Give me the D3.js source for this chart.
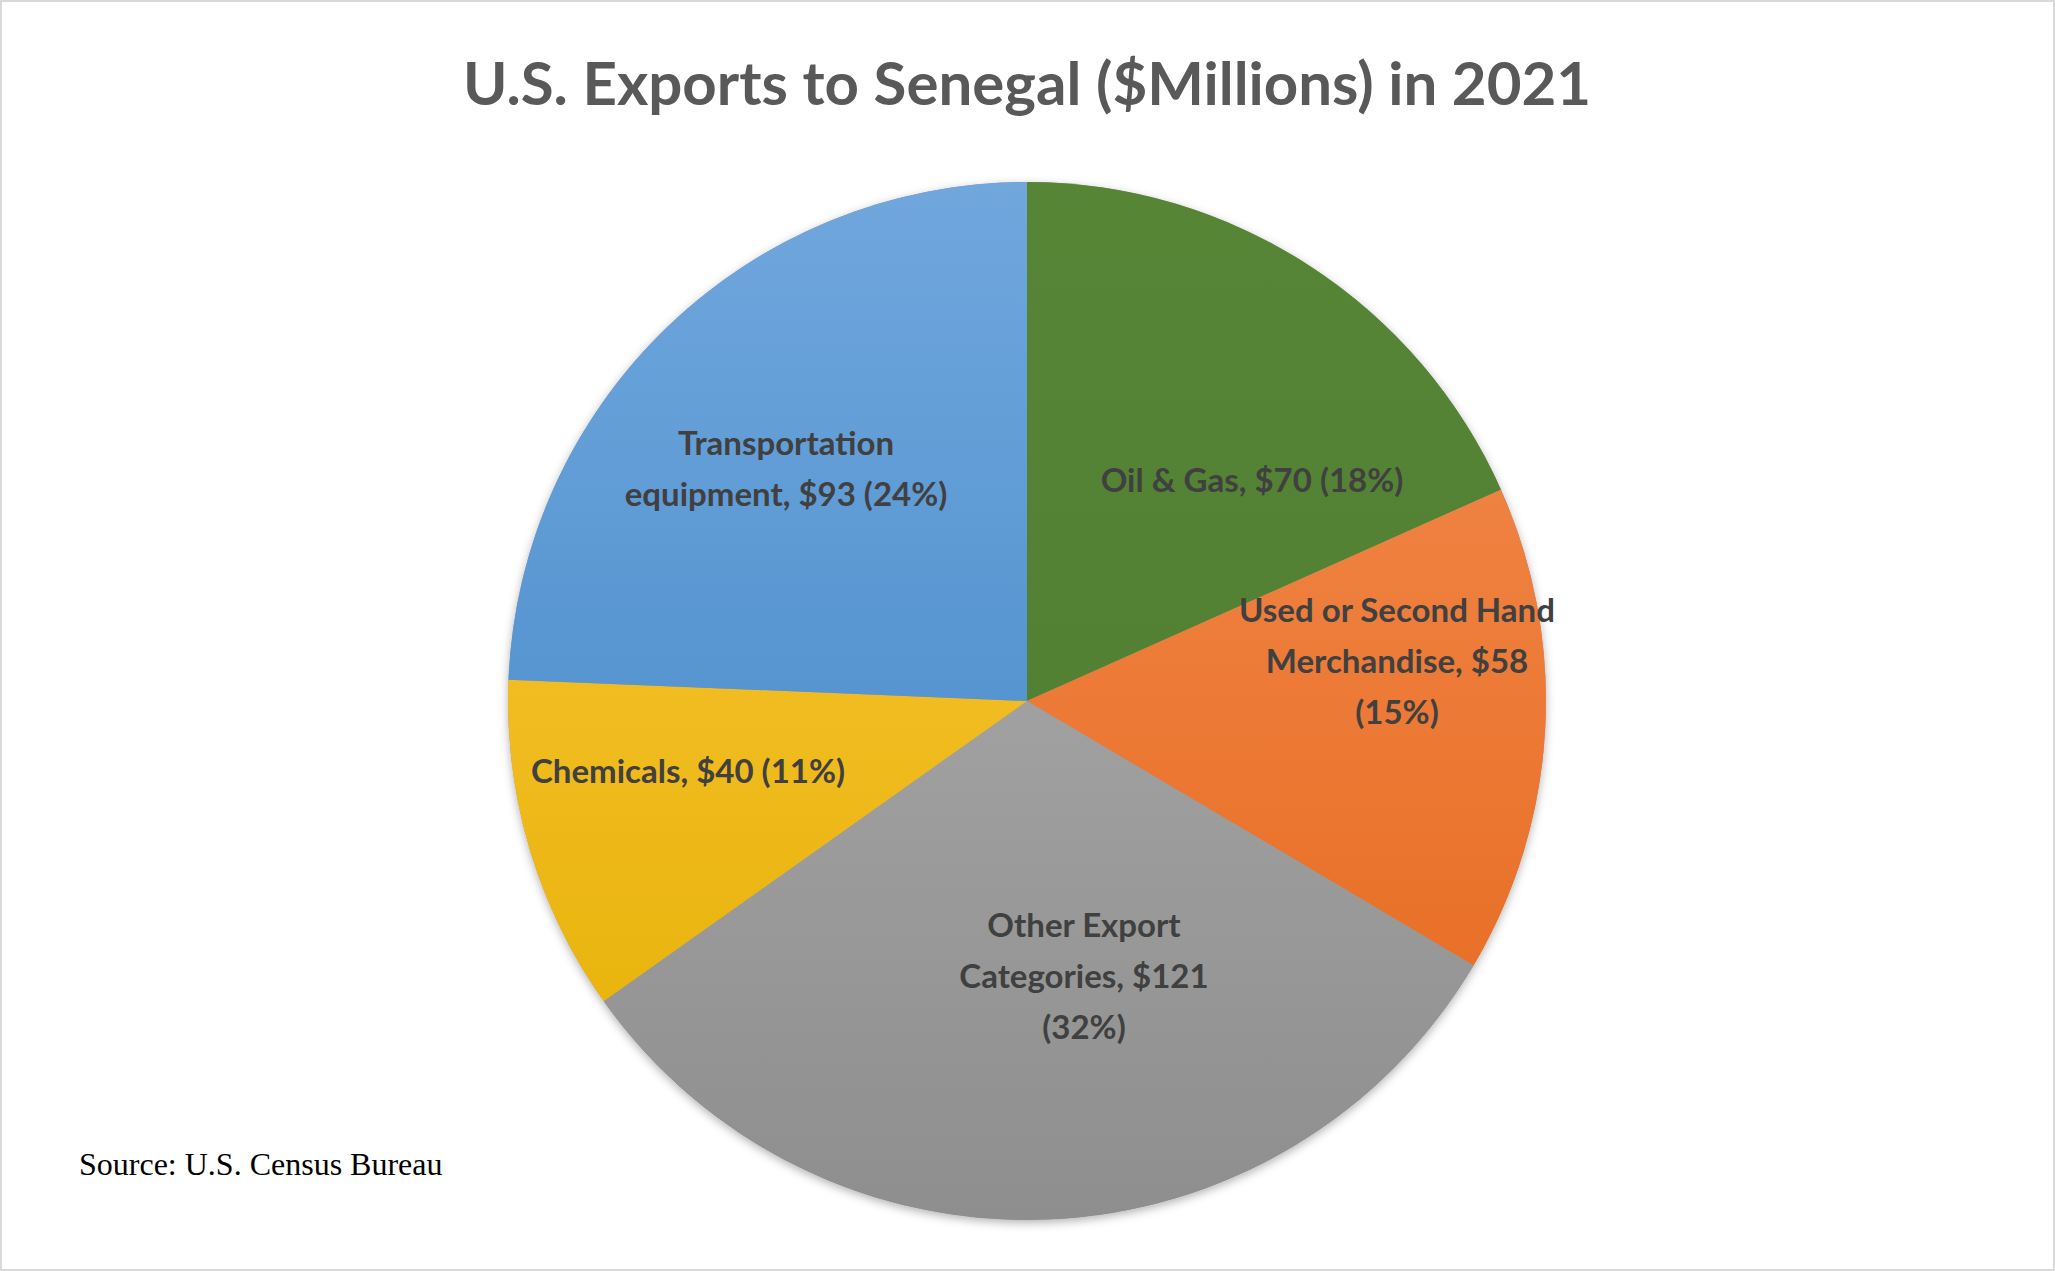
<!DOCTYPE html><html><head><meta charset="utf-8"><script src="https://cdn.jsdelivr.net/npm/d3@7"></script>
<style>body{margin:0;background:#fff}</style></head><body><svg id="c" width="2055" height="1271"></svg><script>
const categories=["Oil & Gas","Used or Second Hand Merchandise","Other Export Categories","Chemicals","Transportation equipment"];
const values=[70,58,121,40,93];
const percents=["18%","15%","32%","11%","24%"];
const labelLines=[["Oil & Gas, $70 (18%)"],["Used or Second Hand","Merchandise, $58","(15%)"],["Other Export","Categories, $121","(32%)"],["Chemicals, $40 (11%)"],["Transportation","equipment, $93 (24%)"]];
const topColors=["#568536","#F48D52","#B3B3B3","#FFC940","#70A7DD"];
const botColors=["#507D32","#E5671A","#8E8E8E","#E3AF00","#3B82C4"];
const labelPos=[[1252,484],[1397,665],[1084,980],[688,775],[786,472]];
const svg=d3.select("#c");
svg.append("rect").attr("x",1).attr("y",1).attr("width",2053).attr("height",1269).attr("fill","#fff").attr("stroke","#d9d9d9").attr("stroke-width",2);
const cx=1027,cy=701,r=519;
const defs=svg.append("defs");
topColors.forEach((c,i)=>{const g=defs.append("linearGradient").attr("id","g"+i).attr("gradientUnits","userSpaceOnUse").attr("x1",0).attr("y1",cy-r).attr("x2",0).attr("y2",cy+r);
g.append("stop").attr("offset",0).attr("stop-color",c);g.append("stop").attr("offset",1).attr("stop-color",botColors[i]);});
const f=defs.append("filter").attr("id","sh").attr("x","-10%").attr("y","-10%").attr("width","120%").attr("height","120%");
f.append("feDropShadow").attr("dx",0).attr("dy",3).attr("stdDeviation",5).attr("flood-color","#000").attr("flood-opacity",0.3);
const pie=d3.pie().sort(null).value(d=>d)(values);
const arc=d3.arc().innerRadius(0).outerRadius(r);
const g=svg.append("g").attr("transform",`translate(${cx},${cy})`);
g.append("circle").attr("r",r).attr("fill","#999").attr("filter","url(#sh)");
g.selectAll("path").data(pie).join("path").attr("d",arc).attr("fill",(d,i)=>`url(#g${i})`).attr("transform",`translate(0,0)`)
 .each(function(d,i){d3.select(this).attr("fill",`url(#g${i})`);});
// gradient coordinates are in user space of g -> adjust
defs.selectAll("linearGradient").attr("y1",-r).attr("y2",r);
const lh=51;
labelLines.forEach((ls,i)=>{const t=svg.append("text").attr("x",labelPos[i][0]).attr("y",labelPos[i][1]-(ls.length-1)*lh/2).attr("text-anchor","middle")
 .attr("font-family","Lato, 'Open Sans', sans-serif").attr("font-weight","bold").attr("font-size",33).attr("fill","#404040").attr("dominant-baseline","middle");
 ls.forEach((l,j)=>t.append("tspan").attr("x",labelPos[i][0]).attr("dy",j?lh:0).text(l));});
svg.append("text").attr("x",1027).attr("y",105).attr("text-anchor","middle").attr("font-family","Lato, 'Open Sans', sans-serif").attr("font-weight","bold").attr("font-size",60).attr("fill","#595959").text("U.S. Exports to Senegal ($Millions) in 2021");
svg.append("text").attr("x",79).attr("y",1175).attr("font-family","'Liberation Serif', serif").attr("font-size",32).attr("fill","#000").text("Source: U.S. Census  Bureau");
</script></body></html>
